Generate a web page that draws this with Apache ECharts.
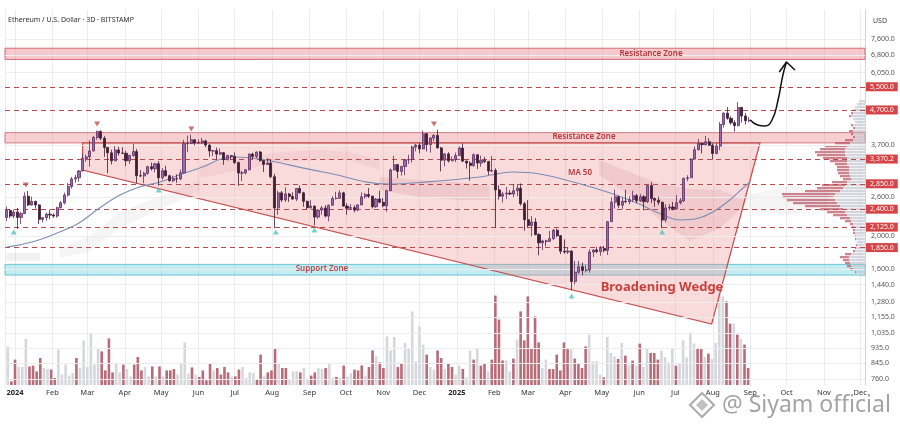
<!DOCTYPE html>
<html><head><meta charset="utf-8">
<script src="https://cdn.jsdelivr.net/npm/echarts@6/dist/echarts.min.js"></script>
<style>html,body{margin:0;padding:0;background:#fff}#c{width:900px;height:429px}</style>
</head><body><div id="c"></div>
<script>
// ---------- DATA ----------
const candleStart = '2023-12-25';   // first 3D candle (3-day bars)
const candleStepDays = 3;
const firstOpen = 2270;
const closes = [
2380,2290,2355,2270,2330,2620,2470,2530,2470,2240,
2265,2320,2305,2290,2425,2505,2640,2800,2945,2970,
3110,3385,3420,3560,3900,4065,3880,3645,3515,3330,
3585,3510,3505,3330,3455,3545,3010,3005,3060,3200,
3155,3265,2970,3115,3010,2910,2950,2945,3070,3740,
3745,3840,3760,3765,3810,3705,3560,3565,3485,3520,
3355,3450,3435,3290,3065,3070,3135,3485,3430,3535,
3335,3250,3280,2990,2420,2680,2555,2660,2615,2570,
2760,2680,2530,2425,2450,2275,2385,2420,2290,2465,
2580,2585,2680,2450,2415,2425,2385,2470,2610,2650,
2620,2440,2570,2515,2455,2720,3130,3245,3100,3205,
3350,3360,3655,3705,3610,4000,3715,3885,3955,3635,
3345,3490,3330,3360,3450,3630,3325,3280,3225,3470,
3280,3340,3315,3110,3120,2735,2620,2660,2675,2660,
2720,2765,2490,2235,2150,2200,2020,1910,1935,1930,
1965,2080,2005,1805,1795,1805,1470,1565,1625,1585,
1590,1795,1820,1800,1840,1815,2205,2515,2610,2465,
2530,2525,2560,2630,2540,2610,2525,2815,2580,2550,
2515,2230,2420,2435,2405,2505,2540,2955,2970,3370,
3590,3745,3715,3790,3700,3500,3680,4260,4600,4440,
4310,4230,4780,4510,4370,4388];
const highs = [
2445,2400,2390,2420,2360,2690,2717,2610,2540,2480,
2275,2345,2390,2330,2440,2535,2685,2865,2985,3030,
3130,3490,3475,3825,3945,4085,4093,3935,3650,3590,
3680,3660,3650,3560,3470,3730,3610,3125,3090,3220,
3290,3280,3325,3170,3220,3030,3010,3040,3140,3840,
3950,3975,3850,3850,3890,3840,3720,3575,3640,3620,
3530,3475,3460,3525,3310,3115,3150,3495,3520,3545,
3560,3340,3395,3350,3050,2720,2715,2780,2680,2690,
2770,2820,2700,2545,2550,2460,2400,2450,2465,2475,
2620,2700,2730,2700,2500,2485,2465,2480,2690,2680,
2770,2630,2590,2720,2590,2740,3160,3445,3260,3220,
3360,3470,3690,3740,3760,4090,4020,3910,3990,4110,
3660,3510,3530,3430,3520,3670,3745,3330,3320,3500,
3480,3450,3420,3330,3440,3165,2820,2700,2790,2730,
2850,2845,2855,2520,2550,2290,2260,2040,1950,1950,
2070,2100,2105,2015,1955,1855,1820,1690,1690,1670,
1640,1830,1830,1860,1870,1870,2215,2600,2740,2630,
2590,2735,2620,2720,2660,2660,2640,2825,2880,2600,
2610,2525,2480,2480,2520,2640,2590,2975,3020,3380,
3670,3860,3760,3940,3880,3745,3750,4330,4630,4790,
4500,4380,4955,4800,4600,4480];
const lows = [
2215,2260,2255,2100,2170,2320,2450,2460,2410,2170,
2195,2220,2240,2265,2265,2410,2480,2615,2760,2870,
2890,3100,3310,3200,3550,3840,3830,3420,3060,3250,
3320,3450,3490,3210,3260,3420,2860,2980,2860,3030,
3120,3080,2815,2930,2995,2890,2880,2865,2920,3050,
3530,3740,3700,3730,3730,3650,3420,3440,3360,3460,
3240,3340,3355,3260,2810,2900,3035,3120,3370,3390,
3310,3085,3240,2960,2110,2310,2520,2520,2520,2560,
2535,2670,2440,2400,2405,2150,2250,2310,2270,2210,
2455,2560,2570,2440,2310,2390,2350,2365,2465,2580,
2590,2410,2420,2500,2430,2360,2710,3120,2960,3010,
3020,3260,3290,3550,3500,3600,3550,3520,3800,3620,
3100,3210,3290,3320,3300,3440,3300,3160,2910,3200,
3150,3200,3280,3020,3080,2120,2560,2510,2570,2640,
2600,2620,2460,2075,2125,1995,2010,1755,1820,1865,
1925,1950,1985,1770,1775,1770,1385,1440,1550,1535,
1565,1560,1735,1780,1750,1790,1760,2200,2410,2420,
2400,2500,2480,2520,2500,2520,2380,2500,2500,2440,
2470,2110,2200,2380,2380,2400,2480,2520,2900,2970,
3360,3570,3500,3690,3680,3355,3480,3580,4170,4400,
4250,4060,4200,4320,4260,4320];
const volumes = [
193,18,127,90,90,230,93,97,68,135,
85,80,77,35,177,52,102,47,60,135,
85,222,90,260,102,185,168,73,233,63,
110,63,102,80,43,102,140,73,90,43,
93,43,93,43,73,73,80,52,110,213,
57,88,52,40,73,23,107,73,85,52,
90,63,43,43,77,90,35,63,60,27,
152,47,63,73,180,107,85,85,30,68,
68,63,85,30,47,63,85,80,85,110,
35,40,35,97,40,60,77,73,98,47,
90,173,143,113,85,243,173,240,90,107,
210,185,368,118,293,202,152,90,77,173,
135,80,107,90,52,97,80,38,173,127,
182,97,110,68,127,447,327,123,123,68,
132,227,368,223,443,182,343,213,85,127,
80,80,152,73,213,185,185,132,110,85,
193,252,118,118,52,38,240,160,143,130,
210,147,97,122,97,207,90,182,160,160,
127,172,140,113,180,97,110,223,138,263,
207,180,180,140,157,130,210,457,443,418,
307,307,252,230,202,85];
const volumeDirection =
 'udduuudddd'+'uudduuuuud'+'uuuuuudddd'+'uuduuddduu'+'dududdduuu'+
 'ududdddudd'+'ddudduuuud'+'dudddudduu'+'uduudduudu'+'ududuudddu'+
 'ddudduuudd'+'uuuuuuduud'+'dudduuduud'+'uddudddduu'+'dudddddduu'+
 'dddddduddd'+'duuuuduuud'+'udududuudd'+'duuuuduuuu'+'udduduuuud'+'dududd';

// MA 50 line
const maDates = ['2023-12-25','2024-01-15','2024-02-07','2024-02-23','2024-03-11','2024-03-28','2024-04-13','2024-04-30','2024-05-16','2024-06-02','2024-06-29','2024-09-12','2024-11-06','2024-12-01','2025-01-20','2025-02-16','2025-03-08','2025-04-09','2025-05-08','2025-05-30','2025-06-21','2025-07-05','2025-07-19','2025-08-01','2025-08-15','2025-08-26','2025-09-01'];
const maValues = [1857,1921,2056,2185,2418,2641,2789,2884,3025,3172,3417,3087,2846,2875,2984,3087,3055,2875,2677,2502,2306,2230,2252,2354,2553,2770,2884];

// Shaded cloud bands [date, upper, lower]
const cloudA = [['2023-12-25',1783,1690],['2024-01-22',1783,1690]];
const cloudB = [['2024-02-07',1845,1724],['2024-03-03',2000,1802],['2024-03-28',2354,2112],['2024-04-22',2553,2322],['2024-05-17',2770,2553],['2024-06-02',2924,2732]];
const cloudC = [['2024-06-02',3237,2964],['2024-07-06',3394,3129],['2024-08-08',3535,3303],['2024-09-09',3583,3348],['2024-10-04',3535,3348],['2024-10-29',3348,3129]];
const cloudD = [['2024-10-29',2984,2732],['2024-12-01',2924,2605],['2025-01-03',2875,2553],['2025-01-28',2806,2553]];
const cloudE = [['2025-04-29',3348,3025],['2025-05-24',3087,2641],['2025-06-18',2846,2230],['2025-07-13',2750,1934],['2025-08-07',2732,2112],['2025-08-28',2553,2468]];
const cloudF = [['2025-08-28',2641,2386],['2025-10-03',2806,2306],['2025-11-05',2732,2468]];

// Zones and pattern
const resistanceZoneTop = [6620, 7140];
const resistanceZoneMid = [3760, 4030];
const supportZone = [1536, 1651];
const wedgeDates = ['2024-02-26','2025-09-09','2025-07-31','2024-02-26'];
const wedgePrices = [3760, 3760, 1102, 3129];

// Price scale
const priceTicks = [7600,6800,6050,3700,2600,2000,1600,1440,1280,1155,1035,935,845,760];
const keyLevels = [5500,4700,3370.2,2850,2400,2125,1850];
const lastPrice = 4387.8;
const lastPriceTimer = '1d 14h';

// Pivot markers
const pivotHighDates = ['2024-01-10','2024-03-09','2024-05-26','2024-12-13'];
const pivotHighPrices = [2826,4273,4130,4273];
const pivotLowDates = ['2023-12-31','2024-04-29','2024-08-04','2024-09-05','2025-04-06','2025-06-20'];
const pivotLowPrices = [2056,2732,2056,2084,1332,2056];

// Projection arrow
const arrowDates = ['2025-09-01','2025-09-07','2025-09-13','2025-09-19','2025-09-24','2025-09-28','2025-10-01'];
const arrowPrices = [4390,4244,4215,4390,5027,5955,6503];
const arrowHeadDates = ['2025-09-25','2025-10-01','2025-10-08'];
const arrowHeadPrices = [6078,6503,6161];

// Visible-range volume profile
const profileEdges = [5027,4926,4828,4730,4635,4542,4451,4361,4273,4187,4103,4020,3939,3860,3782,3706,3632,3558,3487,3417,3348,3281,3215,3150,3087,3025,2964,2904,2846,2789,2732,2677,2624,2571,2519,2468,2418,2370,2322,2276,2230,2185,2141,2098,2056,2014,1974,1934,1895,1857,1820,1783,1747,1712,1678,1644,1611,1578,1547,1516];
const profileTotal = [6,8,10,12,14,16,12,10,14,12,16,14,12,20,30,40,45,50,48,42,35,30,28,28,27,25,22,33,43,48,60,83,82,78,72,60,45,38,32,25,20,15,13,12,12,10,10,8,9,10,12,20,25,22,20,18,15,10,6];
const profileUp = [6,8,10,12,12,14,12,10,12,10,12,12,10,12,15,18,20,20,20,18,18,18,16,16,16,15,14,18,20,22,25,30,32,30,28,25,22,20,18,15,14,12,11,10,10,9,9,8,8,9,10,14,16,16,15,14,12,9,6];

// ---------- BUILD ----------
const DAY = 86400000;
const T = s => Date.parse(s + 'T00:00:00Z');
const t0 = T(candleStart);
const candleTimes = closes.map((_, i) => t0 + i * candleStepDays * DAY);
const opens = closes.map((c, i) => i === 0 ? firstOpen : closes[i - 1]);
const candleData = closes.map((c, i) => [candleTimes[i], opens[i], c, lows[i], highs[i]]);
const VOL_UP = '#d6d7dd', VOL_DN = '#b86b79';
const volData = volumes.map((v, i) => ({ value: [candleTimes[i], v], itemStyle: { color: volumeDirection[i] === 'u' ? VOL_UP : VOL_DN } }));
const maData = maDates.map((d, i) => [T(d), maValues[i]]);

const clouds = [
  { pts: cloudA, fill: 'rgba(190,190,198,0.22)' },
  { pts: cloudB, fill: 'rgba(190,190,198,0.16)' },
  { pts: cloudC, fill: 'rgba(215,150,160,0.14)' },
  { pts: cloudD, fill: 'rgba(165,85,100,0.15)' },
  { pts: cloudE, fill: 'rgba(165,85,100,0.14)' },
  { pts: cloudF, fill: 'rgba(190,190,198,0.16)' }
];
const cloudPolys = clouds.map(c => {
  const up = c.pts.map(p => [T(p[0]), p[1]]);
  const lo = c.pts.map(p => [T(p[0]), p[2]]).reverse();
  return up.concat(lo);
});
const wedgePoly = wedgeDates.map((d, i) => [T(d), wedgePrices[i]]);

const fmt = v => v.toLocaleString('en-US', { minimumFractionDigits: 1, maximumFractionDigits: 1 });

const gridLines = priceTicks.map(v => ({
  yAxis: v,
  lineStyle: { color: '#ededed', type: 'solid', width: 1 },
  label: { show: true, position: 'end', distance: 6, formatter: fmt(v), color: '#555', fontSize: 7, fontFamily: 'Noto Sans' }
}));
const keyLines = keyLevels.map(v => ({
  yAxis: v,
  lineStyle: { color: '#b9494b', type: [5, 4], width: 1 },
  label: { show: true, position: 'end', distance: 1, formatter: fmt(v), color: '#fff', fontSize: 7, fontFamily: 'Noto Sans',
           backgroundColor: '#d64447', padding: [1, 4, 1, 4] }
}));
keyLines.push({
  yAxis: lastPrice,
  lineStyle: { opacity: 0 },
  label: { show: true, position: 'end', distance: 1, formatter: fmt(lastPrice) + '\n' + lastPriceTimer, color: '#fff', fontSize: 6.5,
           lineHeight: 8, fontFamily: 'Noto Sans', backgroundColor: '#131313', padding: [1, 4, 1, 4] }
});

const PMIN = 729.2, PMAX = 9251;
const XMIN = Date.UTC(2023, 11, 23, 18), XMAX = Date.UTC(2025, 11, 5);

const polyRender = (polys, styleFn) => (params, api) => {
  const idx = api.value(2);
  const pts = polys[idx].map(p => api.coord(p));
  return { type: 'polygon', shape: { points: pts }, style: styleFn(idx) };
};

const chart = echarts.init(document.getElementById('c'), null, { renderer: 'canvas' });
chart.setOption({
  animation: false,
  backgroundColor: '#ffffff',
  grid: [
    { left: 5, right: 35, top: 10, bottom: 44 },
    { left: 5, right: 35, top: 290, bottom: 44 },
    { left: 760, right: 35, top: 10, bottom: 44 }
  ],
  xAxis: [
    { type: 'time', gridIndex: 0, min: XMIN, max: XMAX, splitNumber: 24,
      axisLine: { show: false }, axisTick: { show: false },
      splitLine: { show: true, lineStyle: { color: '#ececec', width: 1 } },
      axisLabel: { color: '#333', fontSize: 7.5, fontFamily: 'Noto Sans', margin: 4, hideOverlap: false,
        formatter: { year: '{yr|{yyyy}}', month: '{MMM}', day: '', hour: '', minute: '', second: '', millisecond: '' },
        rich: { yr: { fontWeight: 'bold', fontSize: 7.5, color: '#222' } } } },
    { type: 'time', gridIndex: 1, min: XMIN, max: XMAX, show: false },
    { type: 'value', gridIndex: 2, min: 0, max: 105, inverse: true, show: false }
  ],
  yAxis: [
    { type: 'log', logBase: 10, gridIndex: 0, min: PMIN, max: PMAX, position: 'right',
      axisLine: { show: true, lineStyle: { color: '#d4d4d4' } }, axisTick: { show: false },
      axisLabel: { show: false }, splitLine: { show: false } },
    { type: 'value', gridIndex: 1, min: 0, max: 475, show: false },
    { type: 'log', logBase: 10, gridIndex: 2, min: PMIN, max: PMAX, show: false }
  ],
  series: [
    { // grid lines, tick labels, zones
      type: 'line', xAxisIndex: 0, yAxisIndex: 0, z: 1, symbol: 'none', silent: true,
      data: [[candleTimes[0], closes[0]]], lineStyle: { opacity: 0 },
      markLine: { symbol: 'none', silent: true, data: gridLines },
      markArea: { silent: true, data: [
        [{ yAxis: resistanceZoneTop[0], itemStyle: { color: 'rgba(233,128,134,0.42)', borderColor: '#d46a72', borderWidth: 1 } }, { yAxis: resistanceZoneTop[1] }],
        [{ yAxis: resistanceZoneMid[0], itemStyle: { color: 'rgba(233,128,134,0.38)', borderColor: '#d67a80', borderWidth: 1 } }, { yAxis: resistanceZoneMid[1] }],
        [{ yAxis: supportZone[0], itemStyle: { color: 'rgba(125,215,228,0.45)', borderColor: '#6cc6d2', borderWidth: 1 } }, { yAxis: supportZone[1] }]
      ] }
    },
    { // clouds
      type: 'custom', xAxisIndex: 0, yAxisIndex: 0, z: 2, silent: true,
      data: cloudPolys.map((p, i) => [p[0][0], p[0][1], i]),
      renderItem: polyRender(cloudPolys, i => ({ fill: clouds[i].fill }))
    },
    { // broadening wedge
      type: 'custom', xAxisIndex: 0, yAxisIndex: 0, z: 3, silent: true,
      data: [[wedgePoly[0][0], wedgePoly[0][1], 0]],
      renderItem: polyRender([wedgePoly], () => ({ fill: 'rgba(236,135,138,0.30)', stroke: '#c4504f', lineWidth: 1.3 }))
    },
    { // MA 50 + key levels
      type: 'line', name: 'MA 50', xAxisIndex: 0, yAxisIndex: 0, z: 5, symbol: 'none', smooth: 0.4,
      data: maData, lineStyle: { color: '#7d8db5', width: 1.1 },
      markLine: { symbol: 'none', silent: true, data: keyLines }
    },
    { // candles
      type: 'candlestick', xAxisIndex: 0, yAxisIndex: 0, z: 6, barWidth: 2.6,
      encode: { x: 0, y: [1, 2, 3, 4] },
      data: candleData,
      itemStyle: { color: '#9a6aab', color0: '#3e1d35', borderColor: '#5e2f62', borderColor0: '#3e1d35', borderWidth: 0.8 }
    },
    { // pivot highs
      type: 'scatter', xAxisIndex: 0, yAxisIndex: 0, z: 7, symbol: 'triangle', symbolRotate: 180, symbolSize: [6, 5],
      itemStyle: { color: '#c0504d' }, data: pivotHighDates.map((d, i) => [T(d), pivotHighPrices[i]])
    },
    { // pivot lows
      type: 'scatter', xAxisIndex: 0, yAxisIndex: 0, z: 7, symbol: 'triangle', symbolSize: [6, 5],
      itemStyle: { color: '#4fc4bd' }, data: pivotLowDates.map((d, i) => [T(d), pivotLowPrices[i]])
    },
    { // projection arrow
      type: 'line', xAxisIndex: 0, yAxisIndex: 0, z: 8, symbol: 'none', smooth: 0.5,
      lineStyle: { color: '#111', width: 1.5 }, data: arrowDates.map((d, i) => [T(d), arrowPrices[i]])
    },
    {
      type: 'line', xAxisIndex: 0, yAxisIndex: 0, z: 8, symbol: 'none',
      lineStyle: { color: '#111', width: 1.5 }, data: arrowHeadDates.map((d, i) => [T(d), arrowHeadPrices[i]])
    },
    { // volume
      type: 'bar', xAxisIndex: 1, yAxisIndex: 1, z: 2, barWidth: 2.6, data: volData, silent: true
    },
    { // volume profile
      type: 'custom', xAxisIndex: 2, yAxisIndex: 2, z: 4, silent: true,
      data: profileTotal.map((v, i) => [v, profileEdges[i], i]),
      renderItem: (params, api) => {
        const i = api.value(2);
        const hi = profileEdges[i], lo = profileEdges[i + 1];
        const up = profileUp[i], tot = profileTotal[i];
        const a = api.coord([0, hi]), b = api.coord([up, lo]), c = api.coord([tot, lo]);
        const h = Math.max(0.8, b[1] - a[1] - 0.7);
        return { type: 'group', children: [
          { type: 'rect', shape: { x: b[0], y: a[1], width: a[0] - b[0], height: h }, style: { fill: 'rgba(196,200,210,0.75)' } },
          { type: 'rect', shape: { x: c[0], y: a[1], width: b[0] - c[0], height: h }, style: { fill: 'rgba(184,84,98,0.72)' } }
        ] };
      }
    }
  ],
  graphic: { elements: [
    { type: 'text', z: 100, x: 8, y: 20, style: { text: 'Ethereum / U.S. Dollar · 3D · BITSTAMP', fill: '#333', font: '7px "Noto Sans"', textVerticalAlign: 'middle' } },
    { type: 'text', z: 100, x: 873, y: 21, style: { text: 'USD', fill: '#444', font: '7px "Noto Sans"', textVerticalAlign: 'middle' } },
    { type: 'text', z: 100, x: 651, y: 54, style: { text: 'Resistance Zone', fill: '#b0363a', font: '600 8px "Noto Sans"', textAlign: 'center', textVerticalAlign: 'middle' } },
    { type: 'text', z: 100, x: 584, y: 137, style: { text: 'Resistance Zone', fill: '#b0363a', font: '600 8px "Noto Sans"', textAlign: 'center', textVerticalAlign: 'middle' } },
    { type: 'text', z: 100, x: 322, y: 269, style: { text: 'Support Zone', fill: '#b5474a', font: '600 8px "Noto Sans"', textAlign: 'center', textVerticalAlign: 'middle' } },
    { type: 'text', z: 100, x: 580, y: 173, style: { text: 'MA 50', fill: '#b0363a', font: '600 8px "Noto Sans"', textAlign: 'center', textVerticalAlign: 'middle' } },
    { type: 'text', z: 100, x: 662, y: 287, style: { text: 'Broadening Wedge', fill: '#c9403b', font: 'bold 13px "Noto Sans"', textAlign: 'center', textVerticalAlign: 'middle' } },
    { type: 'polygon', z: 100, shape: { points: [[702, 393], [714, 405], [702, 417], [690, 405]] }, style: { fill: 'none', stroke: 'rgba(150,150,150,0.8)', lineWidth: 2 } },
    { type: 'polygon', z: 100, shape: { points: [[702, 399], [708, 405], [702, 411], [696, 405]] }, style: { fill: 'rgba(150,150,150,0.6)' } },
    { type: 'text', z: 100, x: 722, y: 405, style: { text: '@ Siyam official', fill: 'rgba(140,140,140,0.8)', font: '23px "Noto Sans"', textVerticalAlign: 'middle' } }
  ] }
});
</script></body></html>
